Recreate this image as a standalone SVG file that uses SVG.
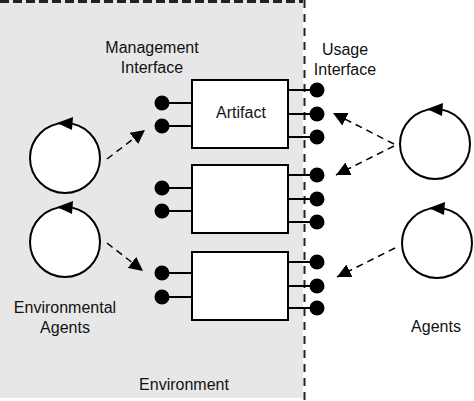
<svg xmlns="http://www.w3.org/2000/svg" width="474" height="401" viewBox="0 0 474 401">
<defs>
<style>
.box{fill:#fff;stroke:#000;stroke-width:2}
.agent{fill:#fff;stroke:#000;stroke-width:2}
.pin{stroke:#000;stroke-width:2}
.dot{fill:#000}
.dash{stroke:#000;stroke-width:1.5;stroke-dasharray:7,5;fill:none}
.lbl{font-family:"Liberation Sans",Arial,sans-serif;font-size:16px;fill:#111;text-anchor:middle}
</style>
<marker id="ah2" viewBox="0 0 10 10" refX="10" refY="5" markerWidth="14" markerHeight="14" markerUnits="userSpaceOnUse" orient="auto">
<path d="M0,0 L10,5 L0,10 Z" fill="#000"/>
</marker>
</defs>
<g id="environment">
<rect x="0" y="0" width="303" height="398" fill="#e7e7e7"/>
<line x1="0" y1="1.5" x2="303" y2="1.5" stroke="#222" stroke-width="3" stroke-dasharray="9,4"/>
<line x1="304.5" y1="0" x2="304.5" y2="401" stroke="#222" stroke-width="2" stroke-dasharray="8,6"/>
<text class="lbl" x="184" y="390">Environment</text>
</g>
<g id="artifact1">
<line class="pin" x1="162" y1="103" x2="192" y2="103"/>
<line class="pin" x1="162" y1="126" x2="192" y2="126"/>
<line class="pin" x1="288" y1="90" x2="317" y2="90"/>
<line class="pin" x1="288" y1="114" x2="317" y2="114"/>
<line class="pin" x1="288" y1="137" x2="317" y2="137"/>
<rect class="box" x="192" y="80" width="96" height="68"/>
<circle class="dot" cx="162" cy="103" r="7.5"/>
<circle class="dot" cx="162" cy="126" r="7.5"/>
<circle class="dot" cx="317" cy="90" r="7.5"/>
<circle class="dot" cx="317" cy="114" r="7.5"/>
<circle class="dot" cx="317" cy="137" r="7.5"/>
<text class="lbl" x="241" y="118">Artifact</text>
</g>
<g id="artifact2">
<line class="pin" x1="162" y1="188" x2="192" y2="188"/>
<line class="pin" x1="162" y1="211" x2="192" y2="211"/>
<line class="pin" x1="288" y1="175" x2="317" y2="175"/>
<line class="pin" x1="288" y1="199" x2="317" y2="199"/>
<line class="pin" x1="288" y1="222" x2="317" y2="222"/>
<rect class="box" x="192" y="165" width="96" height="68"/>
<circle class="dot" cx="162" cy="188" r="7.5"/>
<circle class="dot" cx="162" cy="211" r="7.5"/>
<circle class="dot" cx="317" cy="175" r="7.5"/>
<circle class="dot" cx="317" cy="199" r="7.5"/>
<circle class="dot" cx="317" cy="222" r="7.5"/>
</g>
<g id="artifact3">
<line class="pin" x1="162" y1="273" x2="192" y2="273"/>
<line class="pin" x1="162" y1="297" x2="192" y2="297"/>
<line class="pin" x1="288" y1="262" x2="317" y2="262"/>
<line class="pin" x1="288" y1="286" x2="317" y2="286"/>
<line class="pin" x1="288" y1="308" x2="317" y2="308"/>
<rect class="box" x="192" y="252" width="96" height="68"/>
<circle class="dot" cx="162" cy="273" r="7.5"/>
<circle class="dot" cx="162" cy="297" r="7.5"/>
<circle class="dot" cx="317" cy="262" r="7.5"/>
<circle class="dot" cx="317" cy="286" r="7.5"/>
<circle class="dot" cx="317" cy="308" r="7.5"/>
</g>
<g id="env-agent1">
<circle class="agent" cx="65" cy="158" r="35"/>
<path d="M57,123 L73,117 L72,130 Z" fill="#000"/>
</g>
<g id="env-agent2">
<circle class="agent" cx="65" cy="242" r="35"/>
<path d="M57,207 L73,201 L72,214 Z" fill="#000"/>
<text class="lbl" x="65" y="313">Environmental</text>
<text class="lbl" x="65" y="333">Agents</text>
</g>
<g id="agent1">
<circle class="agent" cx="435" cy="144" r="35"/>
<path d="M427,109 L443,103 L442,116 Z" fill="#000"/>
</g>
<g id="agent2">
<circle class="agent" cx="437" cy="243" r="35"/>
<path d="M429,208 L445,202 L444,215 Z" fill="#000"/>
<text class="lbl" x="436" y="332">Agents</text>
</g>
<g id="labels">
<text class="lbl" x="152" y="53">Management</text>
<text class="lbl" x="152" y="73">Interface</text>
<text class="lbl" x="345" y="55">Usage</text>
<text class="lbl" x="345" y="75">Interface</text>
</g>
<g id="connectors">
<line class="dash" x1="107" y1="159" x2="145" y2="130" marker-end="url(#ah2)"/>
<line class="dash" x1="107" y1="243" x2="143" y2="271" marker-end="url(#ah2)"/>
<line class="dash" x1="394" y1="144" x2="333" y2="113" marker-end="url(#ah2)"/>
<line class="dash" x1="394" y1="146" x2="336" y2="175" marker-end="url(#ah2)"/>
<line class="dash" x1="395" y1="248" x2="337" y2="277" marker-end="url(#ah2)"/>
</g>
</svg>
